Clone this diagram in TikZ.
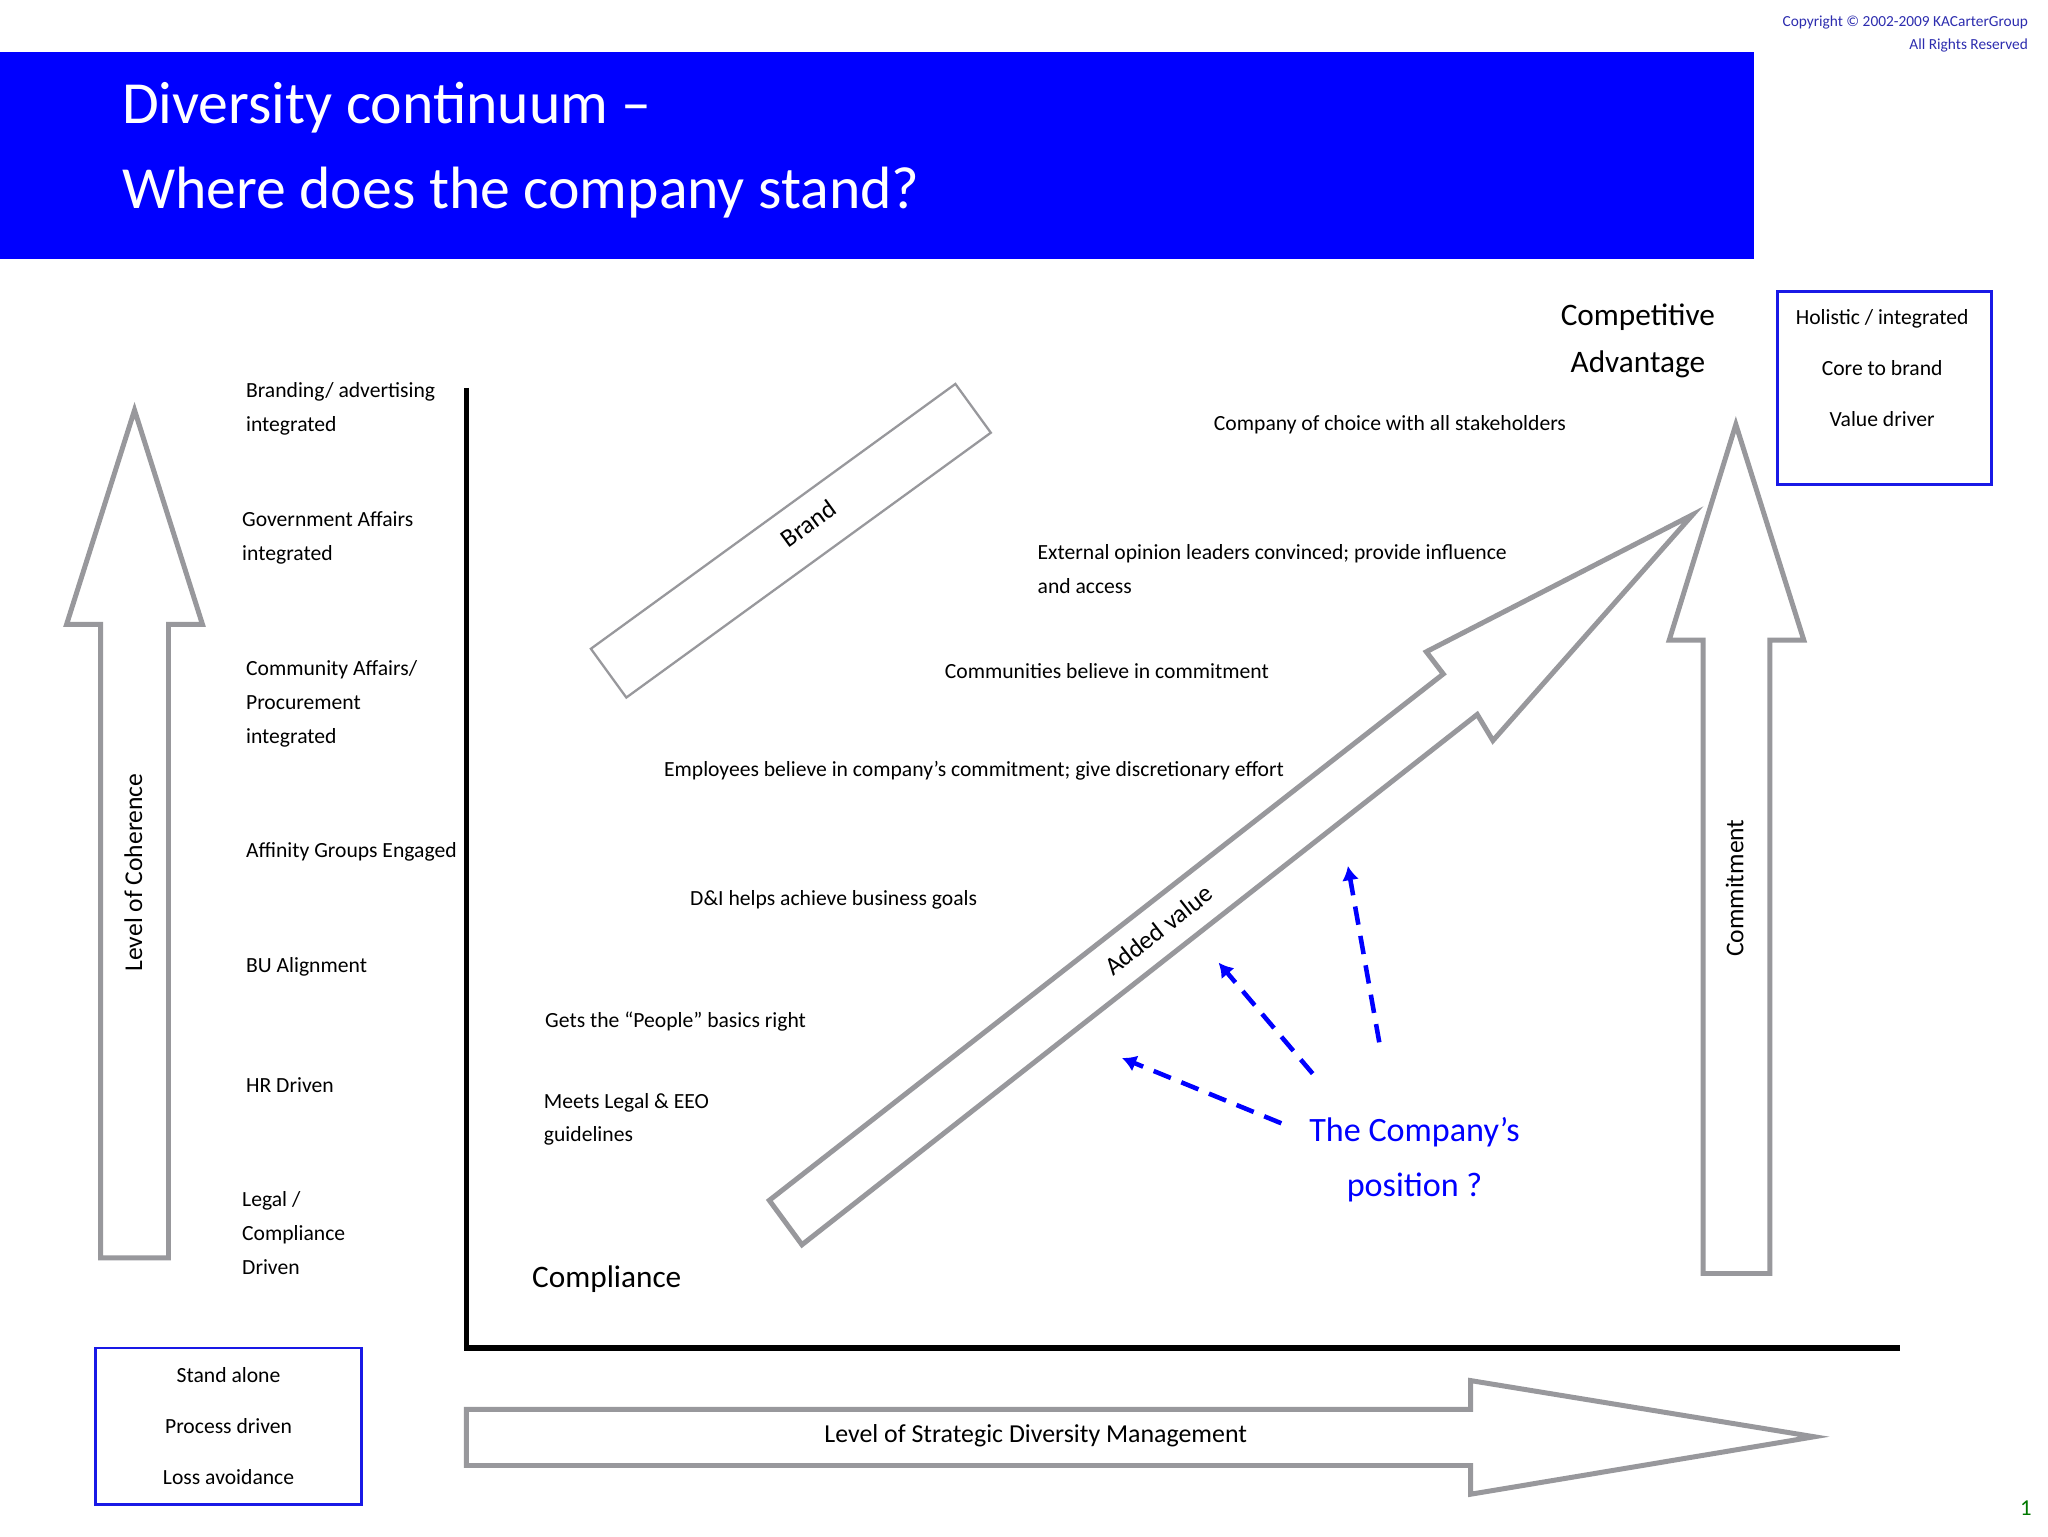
\documentclass[tikz,border=0pt]{standalone}
\usepackage{fontspec}
\setmainfont{Carlito}
\usepackage{tikz}
\usetikzlibrary{arrows.meta, calc}

\definecolor{bannerblue}{RGB}{0,0,255}
\definecolor{boxblue}{RGB}{25,25,230}
\definecolor{arrowgray}{RGB}{152,152,156}
\definecolor{copyblue}{RGB}{45,45,175}
\definecolor{pagegreen}{RGB}{0,120,0}

\begin{document}
\begin{tikzpicture}[
    x=0.4592pt, y=-0.4592pt,
    item/.style={anchor=west, align=left, inner sep=0pt, font=\fontsize{7.6}{11.9}\selectfont},
    heading/.style={align=center, inner sep=0pt, font=\fontsize{11}{16.5}\selectfont},
    infobox/.style={rectangle, draw=boxblue, line width=1pt, inner sep=0pt, align=center, font=\fontsize{7.6}{17.9}\selectfont},
    blockarrow/.style={draw=arrowgray, line width=1.75pt, fill=white, line join=miter},
    axislabel/.style={inner sep=0pt, font=\fontsize{9}{11}\selectfont},
    axis/.style={line width=1.8pt},
    guess/.style={-{Latex[length=5pt, width=6pt]}, bannerblue, line width=1.6pt, dash pattern=on 6.5pt off 4pt}
]
\useasboundingbox (0,0) rectangle (1568,1176);
\fill[white] (0,0) rectangle (1568,1176);

% Title banner
\fill[bannerblue] (0,40) rectangle (1343,198);
\node[anchor=west, align=left, inner sep=0pt, text=white, font=\fontsize{21}{30}\selectfont] (title) at (93,115) {Diversity continuum –\\Where does the company stand?};
\node[anchor=east, align=right, inner sep=0pt, text=copyblue, font=\fontsize{5.4}{8.3}\selectfont] (copyright) at (1553,26) {Copyright © 2002-2009 KACarterGroup\\All Rights Reserved};

% Level of coherence (left)
\draw[blockarrow] (103,314) -- (155,478) -- (129,478) -- (129,963) -- (77,963) -- (77,478) -- (51,478) -- cycle;
\node[axislabel, rotate=90] (coherence) at (102,668) {Level of Coherence};

\node[item] (branding) at (188,313) {Branding/ advertising\\integrated};
\node[item] (government) at (185,412) {Government Affairs\\integrated};
\node[item] (community) at (188,539) {Community Affairs/\\Procurement\\integrated};
\node[item] (affinity) at (188,652) {Affinity Groups Engaged};
\node[item] (bu_align) at (188,740) {BU Alignment};
\node[item] (hr_driven) at (188,831) {HR Driven};
\node[item] (legal) at (185,944) {Legal /\\Compliance\\Driven};

\node[infobox, minimum width=93.7pt, minimum height=55.1pt] (loss_box) at (175,1092) {Stand alone\\Process driven\\Loss avoidance};

% Axes
\draw[axis] (357,297) -- (357,1032) -- (1455,1032);

% Brand band
\node[draw=arrowgray, line width=0.8pt, rotate=36, minimum width=158.4pt, minimum height=21.2pt, inner sep=0pt] (brand) at (605.5,414) {};
\node[axislabel, rotate=36] (brand_label) at (619,401) {Brand};

% Stages
\node[item] (choice) at (929,325) {Company of choice with all stakeholders};
\node[item] (external) at (794,436) {External opinion leaders convinced; provide influence\\and access};
\node[item] (communities) at (723,514) {Communities believe in commitment};
\node[item] (employees) at (508,590) {Employees believe in company’s commitment; give discretionary effort};
\node[item] (goals) at (528,689) {D\&I helps achieve business goals};
\node[item] (people) at (417,782) {Gets the “People” basics right};
\node[item] (eeo) at (416,857) {Meets Legal \& EEO\\guidelines};

\node[heading, anchor=west] (compliance) at (407,979) {Compliance};
\node[heading] (advantage) at (1254,261) {Competitive\\Advantage};

% Added value arrow
\draw[blockarrow] (589,919) -- (1105,516) -- (1092,499) -- (1296,394) -- (1143,567) -- (1131,547) -- (614,953) -- cycle;
\node[axislabel, rotate=38] (added_value) at (887,712) {Added value};

% Commitment (right)
\draw[blockarrow] (1329,325) -- (1381,490) -- (1355,490) -- (1355,975) -- (1304,975) -- (1304,490) -- (1278,490) -- cycle;
\node[axislabel, rotate=90] (commitment) at (1328,680) {Commitment};

\node[infobox, minimum width=75.3pt, minimum height=68pt] (value_box) at (1443,297) {};
\node[infobox, draw=none] (value_text) at (1441,282) {Holistic / integrated\\Core to brand\\Value driver};

% Strategic diversity management
\draw[blockarrow] (357,1079) -- (1126,1079) -- (1126,1057) -- (1389,1100) -- (1126,1144) -- (1126,1122) -- (357,1122) -- cycle;
\node[axislabel, font=\fontsize{9.1}{10}\selectfont] (strategic) at (793,1099) {Level of Strategic Diversity Management};

% Company's position
\node[align=center, inner sep=0pt, text=bannerblue, font=\fontsize{12}{19.3}\selectfont] (position) at (1083,888) {The Company’s\\position ?};
\coordinate (from_low) at (981,860);
\coordinate (from_mid) at (1005,822);
\coordinate (from_high) at (1056,798);
\coordinate (to_low) at (859,810);
\coordinate (to_mid) at (933,737);
\coordinate (to_high) at (1032,663);
\draw[guess] (from_low) -- (to_low);
\draw[guess] (from_mid) -- (to_mid);
\draw[guess] (from_high) -- (to_high);

\node[inner sep=0pt, text=pagegreen, font=\fontsize{8}{9}\selectfont] (page_no) at (1551,1155) {1};
\end{tikzpicture}
\end{document}
